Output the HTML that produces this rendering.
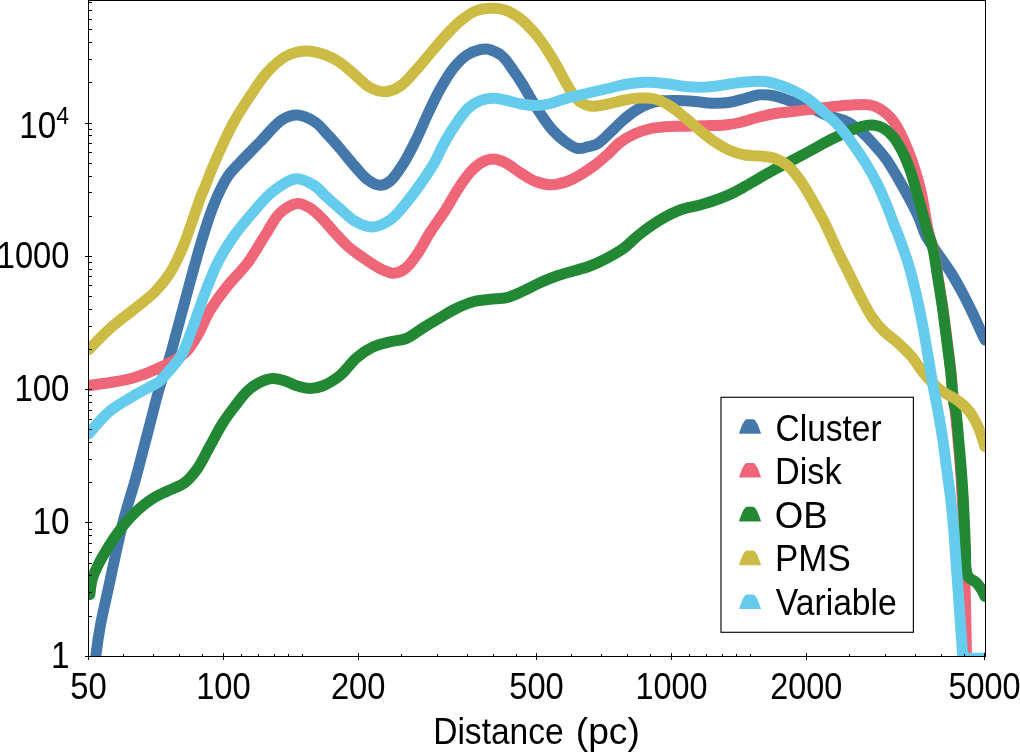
<!DOCTYPE html>
<html><head><meta charset="utf-8"><title>Distance distribution</title>
<style>html,body{margin:0;padding:0;background:#fff}body{width:1020px;height:753px;overflow:hidden}</style>
</head><body>
<svg width="1020" height="753" viewBox="0 0 1020 753" style="display:block">
<rect width="1020" height="753" fill="#fff"/>
<defs><clipPath id="cp"><rect x="88.5" y="0.5" width="897.0" height="656.0"/></clipPath></defs>
<g clip-path="url(#cp)" fill="none" stroke-width="11" stroke-linejoin="round" stroke-linecap="round">
<path d="M92.00,700.00C92.00,700.00 94.29,668.91 95.90,655.40C97.25,644.08 98.67,634.82 100.60,624.30C102.61,613.33 105.40,602.04 107.80,590.90C110.20,579.74 112.53,568.56 115.00,557.40C117.47,546.23 120.02,534.10 122.60,523.90C124.80,515.23 127.12,507.50 129.30,500.00C131.25,493.29 132.81,488.78 135.00,481.00C138.45,468.75 143.33,449.33 147.50,433.50C151.67,417.67 155.97,399.33 160.00,386.00C162.99,376.13 166.18,368.77 168.75,360.50C171.14,352.80 172.76,346.19 175.00,338.00C177.69,328.16 180.83,316.33 183.75,305.50C186.67,294.67 189.44,284.02 192.50,273.00C195.68,261.54 199.04,249.18 202.50,238.00C205.72,227.58 209.07,216.92 212.50,208.00C215.35,200.59 218.28,193.88 221.25,188.00C223.71,183.13 225.74,179.14 228.75,175.00C231.93,170.62 235.66,167.13 240.00,162.50C245.66,156.46 253.11,148.97 260.00,142.00C267.26,134.65 275.22,123.85 282.50,119.50C287.61,116.45 292.35,114.77 297.50,115.00C303.15,115.25 309.89,118.63 315.00,122.00C320.04,125.33 323.82,130.56 328.00,135.00C332.15,139.40 335.82,143.64 340.00,148.50C344.76,154.03 350.08,161.01 355.00,166.50C359.40,171.41 363.42,176.80 368.00,180.00C371.83,182.68 376.17,185.24 380.00,185.30C383.47,185.35 386.80,183.68 390.00,181.25C394.41,177.89 398.49,171.18 402.50,165.00C407.22,157.72 411.73,148.61 416.00,140.00C420.41,131.12 424.25,121.41 428.50,112.50C432.59,103.93 436.56,95.25 441.00,87.50C445.10,80.34 449.32,73.16 454.00,67.50C458.07,62.58 462.36,58.02 467.00,55.00C471.09,52.34 476.20,50.58 480.00,49.70C482.78,49.06 484.68,48.69 487.50,49.20C491.52,49.92 497.39,52.30 501.50,55.50C506.01,59.01 509.40,65.05 513.00,70.00C516.56,74.89 519.92,80.06 523.00,85.00C525.89,89.65 528.21,94.19 531.00,98.80C533.87,103.53 536.66,108.11 540.00,113.00C543.74,118.47 548.08,125.07 552.50,130.00C556.46,134.42 560.64,138.34 565.00,141.50C569.00,144.40 573.39,147.79 577.50,148.50C581.04,149.11 584.68,147.46 588.00,146.70C591.06,146.00 593.97,145.62 596.70,144.20C599.67,142.66 602.28,139.90 605.00,137.50C607.82,135.01 610.55,132.17 613.30,129.50C616.05,126.84 618.69,124.02 621.50,121.50C624.26,119.03 627.16,116.64 630.00,114.50C632.66,112.49 635.12,110.70 638.00,109.00C641.09,107.18 644.44,105.32 648.00,104.00C651.75,102.61 655.59,101.61 660.00,101.00C665.25,100.28 671.67,100.42 677.50,100.50C683.34,100.58 689.17,101.03 695.00,101.50C700.84,101.97 706.66,103.17 712.50,103.30C718.33,103.43 724.43,103.16 730.00,102.30C735.23,101.50 740.00,99.75 745.00,98.50C750.00,97.25 754.97,95.21 760.00,94.80C764.97,94.40 770.06,94.99 775.00,96.00C780.06,97.03 784.79,99.35 790.00,101.00C795.60,102.77 801.59,104.01 807.50,106.25C813.91,108.68 820.47,112.78 827.00,115.30C833.27,117.72 840.23,118.50 845.90,121.20C851.14,123.70 855.48,126.89 860.00,130.60C864.91,134.62 869.71,139.90 874.10,144.70C878.32,149.31 882.15,153.62 885.90,158.80C890.02,164.49 893.77,171.10 897.60,177.60C901.61,184.41 905.76,191.91 909.40,198.80C912.79,205.22 916.00,211.30 918.80,217.60C921.51,223.71 922.97,230.19 926.00,236.00C929.03,241.82 933.12,246.79 937.00,252.50C941.24,258.75 946.27,265.29 950.50,272.00C954.77,278.78 958.74,285.99 962.50,293.00C966.16,299.83 969.62,306.86 972.80,313.50C975.75,319.67 978.74,326.62 981.00,331.50C982.56,334.86 985.00,340.00 985.00,340.00" stroke="#4477AA"/>
<path d="M89.00,385.50C89.00,385.50 102.86,383.71 110.00,382.50C117.51,381.23 125.13,380.28 133.00,378.00C141.75,375.46 151.33,371.67 160.00,367.50C168.66,363.34 178.55,358.87 185.00,353.00C190.57,347.94 193.57,342.02 197.50,335.50C201.98,328.06 205.12,318.61 210.00,310.50C215.06,302.09 221.27,293.89 227.50,286.00C233.77,278.06 241.34,271.26 247.50,263.00C253.87,254.46 259.35,244.18 265.00,235.50C270.15,227.60 274.03,218.45 280.00,213.00C285.12,208.32 292.07,203.91 297.50,203.50C301.94,203.16 306.04,205.66 310.00,208.00C314.43,210.62 318.45,214.98 322.50,219.00C326.80,223.27 330.79,228.46 335.00,233.00C339.13,237.45 343.18,242.15 347.50,246.00C351.53,249.59 355.79,252.47 360.00,255.50C364.13,258.47 368.47,261.48 372.50,264.00C376.11,266.25 379.39,268.45 383.00,270.00C386.48,271.50 390.15,273.41 393.75,273.25C397.49,273.09 401.46,271.32 405.00,268.75C409.50,265.48 413.55,259.36 417.50,253.75C421.94,247.44 425.47,239.60 430.00,232.50C434.77,225.02 440.62,217.58 445.50,210.00C450.28,202.57 454.47,194.29 459.00,187.50C462.98,181.54 466.74,175.69 471.00,171.25C474.64,167.45 478.54,164.05 482.50,162.00C485.91,160.24 489.38,158.99 493.00,159.00C496.87,159.01 500.93,160.60 505.00,162.50C509.89,164.78 514.95,169.35 520.00,172.50C524.95,175.59 529.67,179.21 535.00,181.25C540.33,183.29 546.47,184.80 552.00,184.75C557.29,184.70 562.49,183.08 567.50,181.25C572.67,179.37 577.81,176.29 582.50,173.50C586.94,170.86 590.91,168.10 595.00,165.00C599.25,161.78 603.39,158.19 607.50,154.50C611.73,150.70 615.42,145.96 620.00,142.50C624.59,139.04 629.88,136.07 635.00,133.75C639.89,131.54 644.94,129.92 650.00,128.75C654.95,127.61 659.63,127.17 665.00,126.75C671.18,126.26 678.33,126.42 685.00,126.25C691.67,126.08 698.33,125.96 705.00,125.75C711.67,125.54 718.83,125.63 725.00,125.00C730.38,124.45 734.84,123.66 740.00,122.50C745.64,121.23 751.65,119.00 757.50,117.50C763.31,116.01 768.94,114.54 775.00,113.50C781.42,112.40 788.33,111.98 795.00,111.20C801.67,110.42 808.21,109.60 815.00,108.80C822.04,107.97 829.57,106.98 836.50,106.30C842.97,105.67 849.48,105.01 855.30,104.80C860.33,104.62 865.08,104.11 869.40,104.90C873.31,105.61 876.79,106.92 880.20,108.90C883.90,111.04 887.52,114.15 890.60,117.60C893.91,121.30 896.52,125.75 899.20,130.60C902.28,136.18 905.13,143.08 907.70,149.40C910.23,155.62 912.37,161.54 914.50,168.20C916.86,175.58 919.28,183.90 921.10,191.80C922.90,199.60 924.02,207.91 925.40,215.30C926.64,221.92 927.56,228.29 929.00,234.10C930.28,239.26 932.08,242.84 933.40,248.50C935.22,256.30 936.46,267.18 938.00,276.80C939.60,286.80 941.28,296.83 942.80,307.40C944.43,318.71 946.01,331.50 947.40,342.60C948.65,352.54 949.78,361.28 950.80,370.90C951.86,380.89 952.70,394.47 953.60,401.50C954.08,405.22 954.51,406.29 955.00,410.00C955.92,416.94 957.08,430.00 958.00,440.00C958.92,450.00 959.78,460.00 960.50,470.00C961.22,480.00 961.77,490.00 962.30,500.00C962.83,510.00 963.29,518.68 963.70,530.00C964.23,544.76 964.58,562.37 965.00,581.00C965.51,603.60 966.16,634.31 966.50,656.00C966.76,672.61 967.00,700.00 967.00,700.00" stroke="#EE6677"/>
<path d="M89.90,594.50C89.90,594.50 90.89,583.90 92.30,578.90C93.70,573.94 95.90,569.49 98.30,564.60C100.97,559.15 104.33,553.41 107.80,547.80C111.46,541.88 115.65,535.47 119.80,530.00C123.64,524.94 127.59,520.27 131.70,516.00C135.57,511.98 139.59,508.27 143.70,505.00C147.57,501.92 151.54,499.17 155.60,496.80C159.48,494.53 163.15,493.12 167.50,491.00C172.77,488.43 179.97,486.30 185.00,482.50C189.94,478.77 193.61,473.97 197.50,468.50C202.05,462.10 205.83,453.50 210.00,446.00C214.17,438.50 218.13,430.42 222.50,423.50C226.50,417.18 230.73,411.53 235.00,406.00C239.07,400.73 243.04,395.10 247.50,391.00C251.44,387.38 255.66,384.35 260.00,382.25C264.02,380.30 268.31,378.70 272.50,378.50C276.64,378.31 280.89,379.78 285.00,381.00C289.23,382.26 293.27,384.74 297.50,386.00C301.61,387.22 305.83,388.50 310.00,388.50C314.17,388.50 318.14,387.69 322.50,386.00C328.02,383.87 334.52,379.92 340.00,375.50C345.99,370.67 350.83,362.63 356.70,357.70C361.99,353.25 367.56,349.48 373.30,346.80C378.68,344.29 384.40,343.22 390.00,341.80C395.54,340.39 401.33,340.49 406.70,338.30C412.47,335.95 417.73,331.14 423.30,327.70C428.83,324.28 434.41,320.95 440.00,317.70C445.55,314.48 451.05,311.00 456.70,308.30C462.16,305.69 467.67,303.20 473.30,301.70C478.77,300.24 484.43,299.97 490.00,299.30C495.56,298.63 501.24,299.03 506.70,297.70C512.34,296.32 517.81,293.47 523.30,291.00C528.91,288.48 534.38,285.22 540.00,282.70C545.52,280.23 551.10,277.96 556.70,276.00C562.20,274.07 567.76,272.66 573.30,271.00C578.86,269.33 584.51,268.08 590.00,266.00C595.64,263.87 601.21,261.17 606.70,258.30C612.32,255.36 617.93,252.37 623.30,248.50C629.05,244.36 634.05,238.64 640.00,234.00C646.25,229.12 653.18,224.06 660.00,220.00C666.53,216.11 673.19,212.52 680.00,210.00C686.54,207.58 693.37,206.90 700.00,205.00C706.70,203.08 713.86,200.82 720.00,198.50C725.41,196.45 730.06,194.46 735.00,192.00C740.07,189.47 744.65,186.56 750.00,183.50C756.19,179.96 763.30,175.68 770.00,172.00C776.63,168.35 783.33,165.00 790.00,161.50C796.67,158.00 803.35,154.57 810.00,151.00C816.68,147.41 823.22,143.41 830.00,140.00C836.75,136.61 844.64,133.02 850.60,130.60C855.03,128.80 858.42,127.30 862.40,126.40C866.26,125.53 870.45,124.82 874.10,125.20C877.44,125.55 880.53,126.52 883.50,128.20C886.84,130.10 889.99,133.06 892.90,136.50C896.39,140.63 899.65,146.50 902.40,151.80C905.14,157.07 907.29,162.49 909.40,168.20C911.62,174.20 913.38,180.53 915.30,187.00C917.32,193.84 919.30,201.25 921.20,208.20C923.03,214.91 924.58,221.36 926.50,228.00C928.47,234.79 931.13,241.05 932.90,248.50C934.95,257.11 936.05,267.18 937.60,276.80C939.21,286.80 940.88,296.83 942.40,307.40C944.03,318.71 945.57,331.50 947.00,342.60C948.28,352.55 949.52,361.27 950.60,370.90C951.73,380.89 952.39,394.52 953.60,401.50C954.24,405.21 955.06,406.21 955.70,409.90C956.90,416.78 957.77,429.83 958.70,439.80C959.63,449.76 960.53,459.73 961.30,469.70C962.07,479.66 962.73,489.63 963.30,499.60C963.87,509.56 964.31,520.47 964.70,529.50C965.02,536.98 965.28,543.39 965.50,550.00C965.71,556.19 965.26,563.07 966.00,568.00C966.53,571.55 966.80,574.59 968.50,577.00C970.22,579.44 974.07,580.30 976.30,582.50C978.53,584.70 980.39,587.70 981.90,590.20C983.20,592.35 985.00,596.50 985.00,596.50" stroke="#228833"/>
<path d="M89.00,349.50C89.00,349.50 102.50,335.22 110.00,328.50C117.79,321.53 127.16,314.91 135.00,308.50C142.07,302.71 149.08,297.81 155.00,291.75C160.68,285.94 165.55,279.96 170.00,273.00C174.80,265.49 178.78,256.64 182.50,248.00C186.30,239.16 189.30,229.46 192.50,220.50C195.54,211.98 198.95,201.37 201.25,195.50C202.53,192.24 203.25,191.05 204.50,188.00C206.43,183.31 208.82,176.46 211.50,170.00C214.68,162.32 218.61,153.29 222.50,145.00C226.44,136.62 230.42,128.12 235.00,120.00C239.59,111.86 244.72,104.09 250.00,96.25C255.38,88.25 260.72,79.35 267.00,72.50C272.81,66.17 279.19,59.84 286.00,56.25C292.12,53.02 298.97,51.23 305.50,51.00C311.97,50.77 319.06,52.74 325.00,54.80C330.47,56.70 335.17,59.30 340.00,62.50C345.20,65.94 350.00,70.83 355.00,75.00C360.00,79.17 364.69,84.70 370.00,87.50C374.75,90.01 380.03,91.94 385.00,91.75C390.03,91.56 395.31,89.25 400.00,86.25C405.41,82.80 410.10,76.54 415.00,71.25C420.11,65.73 425.00,59.58 430.00,53.75C435.00,47.92 439.89,41.77 445.00,36.25C449.90,30.96 454.78,25.53 460.00,21.25C464.81,17.30 469.78,13.40 475.00,11.25C479.81,9.27 484.98,8.50 490.00,8.30C494.98,8.10 500.16,8.43 505.00,10.00C510.18,11.68 515.47,15.13 520.00,18.50C524.45,21.81 528.39,26.10 532.00,30.00C535.34,33.61 538.09,37.07 541.00,41.00C544.11,45.20 547.15,49.96 550.00,54.50C552.81,58.96 555.42,63.43 558.00,68.00C560.59,72.60 562.92,77.55 565.50,82.00C567.93,86.20 570.27,90.46 573.00,94.00C575.48,97.21 578.00,100.48 581.00,102.50C583.73,104.34 586.86,105.49 590.00,106.00C593.19,106.52 596.68,105.91 600.00,105.50C603.35,105.08 606.34,104.29 610.00,103.50C614.50,102.52 619.98,100.92 625.00,100.00C629.98,99.09 634.99,98.17 640.00,98.00C644.99,97.84 650.11,97.74 655.00,99.00C660.13,100.32 665.16,103.06 670.00,106.00C675.18,109.14 680.06,113.47 685.00,117.50C690.06,121.63 694.94,126.37 700.00,130.50C704.94,134.53 709.88,138.61 715.00,142.00C719.89,145.24 724.87,148.31 730.00,150.50C734.89,152.59 739.95,154.09 745.00,155.00C749.95,155.90 755.01,155.42 760.00,156.00C765.01,156.58 770.36,156.87 775.00,158.50C779.50,160.08 783.59,162.31 787.50,165.50C792.02,169.19 796.04,174.57 800.00,180.00C804.43,186.08 808.42,193.42 812.50,200.50C816.76,207.90 821.04,215.61 825.00,223.50C829.06,231.59 832.59,240.33 836.50,248.50C840.32,256.48 844.29,264.16 848.20,272.00C852.12,279.86 855.98,287.99 860.00,295.60C863.85,302.90 867.57,310.62 871.80,316.80C875.48,322.17 879.20,326.60 883.50,330.90C887.80,335.20 892.99,338.40 897.60,342.60C902.43,347.00 907.48,351.73 911.80,356.80C916.11,361.86 919.04,367.73 923.50,373.00C928.34,378.72 933.94,384.87 940.00,389.70C946.02,394.50 954.42,397.72 959.70,401.90C963.82,405.16 966.77,408.07 969.70,411.90C972.82,415.97 975.51,421.06 977.70,425.80C979.81,430.37 981.42,435.97 982.70,439.80C983.58,442.43 984.80,446.50 984.80,446.50" stroke="#CCBB44"/>
<path d="M89.00,433.50C89.00,433.50 102.25,417.46 110.00,411.00C117.61,404.66 126.59,400.04 135.00,395.00C143.26,390.05 155.02,384.96 160.00,381.00C162.54,378.98 162.90,377.94 165.00,375.50C168.91,370.95 176.76,363.07 181.25,355.50C186.07,347.37 188.76,337.76 192.50,328.00C196.68,317.08 200.68,304.16 205.00,293.00C209.04,282.56 212.76,272.38 217.50,263.00C221.99,254.11 226.84,246.15 232.50,238.00C238.44,229.46 245.67,220.87 252.50,213.00C259.02,205.49 265.04,197.52 272.50,191.75C279.68,186.20 288.69,179.25 296.25,178.75C302.76,178.32 309.97,182.81 315.00,186.00C319.17,188.64 321.30,192.11 325.00,195.50C329.46,199.59 334.97,204.43 340.00,208.75C344.97,213.01 349.49,218.20 355.00,221.25C360.35,224.22 366.70,227.18 372.50,227.00C378.37,226.81 384.69,223.59 390.00,220.00C395.79,216.08 400.46,209.69 405.50,203.75C410.98,197.29 416.56,189.56 421.50,182.50C426.18,175.81 430.62,169.28 434.50,162.50C438.26,155.94 440.81,149.08 444.50,142.50C448.29,135.74 452.69,128.57 457.00,122.50C460.89,117.02 464.63,111.32 469.00,107.50C472.73,104.24 476.85,101.83 481.00,100.30C484.87,98.88 489.00,98.35 493.00,98.30C497.00,98.25 500.80,99.18 505.00,100.00C509.74,100.93 514.97,102.83 520.00,103.75C524.97,104.66 530.00,105.50 535.00,105.50C540.00,105.50 545.06,104.85 550.00,103.75C555.06,102.62 559.97,100.21 565.00,98.75C569.97,97.30 575.00,96.21 580.00,95.00C585.00,93.79 590.00,92.67 595.00,91.50C600.00,90.33 605.00,89.17 610.00,88.00C615.00,86.83 619.61,85.42 625.00,84.50C631.16,83.45 638.33,82.47 645.00,82.30C651.66,82.13 658.35,82.80 665.00,83.50C671.68,84.20 678.80,85.87 685.00,86.50C690.35,87.04 695.00,87.33 700.00,87.30C705.00,87.27 710.01,86.85 715.00,86.30C720.01,85.75 725.00,84.72 730.00,84.00C735.00,83.28 739.63,82.42 745.00,82.00C751.18,81.51 758.86,80.81 765.00,81.50C770.40,82.11 775.13,83.72 780.00,85.30C784.82,86.86 789.48,88.66 794.10,90.90C798.89,93.23 803.63,95.89 808.20,99.10C813.08,102.52 817.64,106.84 822.40,111.00C827.40,115.36 832.72,119.64 837.50,124.70C842.55,130.05 847.19,136.13 851.80,142.40C856.67,149.02 861.54,156.37 865.90,163.50C870.16,170.47 874.15,177.55 877.70,184.70C881.17,191.69 884.19,199.01 887.00,205.90C889.62,212.32 891.78,218.66 894.10,224.70C896.27,230.33 898.27,234.88 900.50,241.00C903.31,248.71 906.75,258.40 909.40,267.40C912.10,276.59 914.33,286.18 916.50,295.60C918.66,304.98 920.52,314.01 922.40,323.80C924.43,334.35 926.39,346.23 928.20,356.80C929.87,366.57 931.25,375.90 932.90,385.00C934.46,393.57 936.22,401.21 937.80,409.90C939.53,419.40 941.30,429.82 942.80,439.80C944.30,449.75 945.47,459.73 946.80,469.70C948.13,479.67 949.65,489.62 950.80,499.60C951.95,509.56 952.58,516.12 953.70,529.50C955.99,556.71 961.31,640.03 962.50,653.50C962.73,656.13 963.00,658.20 963.00,658.20L990,658.2" stroke="#66CCEE"/>
</g>
<g stroke="#000" stroke-width="1" fill="none" shape-rendering="crispEdges">
<rect x="88.5" y="0.5" width="897.0" height="656.0"/>
<path d="M84.8,656.20H91.7M88.5,616.07h3M88.5,592.60h3M88.5,575.95h3M88.5,563.03h3M88.5,552.47h3M88.5,543.55h3M88.5,535.82h3M88.5,529.00h3M84.8,522.90H91.7M88.5,482.77h3M88.5,459.30h3M88.5,442.65h3M88.5,429.73h3M88.5,419.17h3M88.5,410.25h3M88.5,402.52h3M88.5,395.70h3M84.8,389.60H91.7M88.5,349.47h3M88.5,326.00h3M88.5,309.35h3M88.5,296.43h3M88.5,285.87h3M88.5,276.95h3M88.5,269.22h3M88.5,262.40h3M84.8,256.30H91.7M88.5,216.17h3M88.5,192.70h3M88.5,176.05h3M88.5,163.13h3M88.5,152.57h3M88.5,143.65h3M88.5,135.92h3M88.5,129.10h3M84.8,123.00H91.7M88.5,82.87h3M88.5,59.40h3M88.5,42.75h3M88.5,29.83h3M88.5,19.27h3M88.5,10.35h3M88.5,2.62h3M88.50,653.3V660.1M223.36,653.3V660.1M358.22,653.3V660.1M536.50,653.3V660.1M671.36,653.3V660.1M806.22,653.3V660.1M984.50,653.3V660.1M123.97,656.5v-3M153.97,656.5v-3M179.95,656.5v-3M202.86,656.5v-3M241.91,656.5v-3M258.83,656.5v-3M274.41,656.5v-3M288.83,656.5v-3M302.25,656.5v-3M401.64,656.5v-3M437.11,656.5v-3M467.10,656.5v-3M493.08,656.5v-3M516.00,656.5v-3M571.97,656.5v-3M601.97,656.5v-3M627.95,656.5v-3M650.86,656.5v-3M689.91,656.5v-3M706.83,656.5v-3M722.41,656.5v-3M736.83,656.5v-3M750.25,656.5v-3M849.64,656.5v-3M885.11,656.5v-3M915.10,656.5v-3M941.08,656.5v-3M964.00,656.5v-3" stroke-width="1"/>
</g>
<g font-family="Liberation Sans, sans-serif" font-size="36.5" fill="#000">
<text x="88.5" y="699.0" text-anchor="middle" textLength="36.5" lengthAdjust="spacingAndGlyphs">50</text>
<text x="223.4" y="699.0" text-anchor="middle" textLength="54.5" lengthAdjust="spacingAndGlyphs">100</text>
<text x="358.2" y="699.0" text-anchor="middle" textLength="54.5" lengthAdjust="spacingAndGlyphs">200</text>
<text x="536.5" y="699.0" text-anchor="middle" textLength="54.5" lengthAdjust="spacingAndGlyphs">500</text>
<text x="671.4" y="699.0" text-anchor="middle" textLength="72" lengthAdjust="spacingAndGlyphs">1000</text>
<text x="806.2" y="699.0" text-anchor="middle" textLength="72" lengthAdjust="spacingAndGlyphs">2000</text>
<text x="984.5" y="699.0" text-anchor="middle" textLength="72" lengthAdjust="spacingAndGlyphs">5000</text>
<text x="69.4" y="267.7" text-anchor="end" textLength="72.6" lengthAdjust="spacingAndGlyphs">1000</text>
<text x="69.4" y="401.0" text-anchor="end" textLength="55" lengthAdjust="spacingAndGlyphs">100</text>
<text x="69.4" y="534.3" text-anchor="end" textLength="37" lengthAdjust="spacingAndGlyphs">10</text>
<text x="69.4" y="667.6" text-anchor="end" textLength="18.5" lengthAdjust="spacingAndGlyphs">1</text>
<text x="19.3" y="137.7" textLength="37" lengthAdjust="spacingAndGlyphs">10</text>
<text x="56.2" y="124.2" textLength="12.8" lengthAdjust="spacingAndGlyphs" font-size="24">4</text>
<text y="743.8" font-size="36.5"><tspan x="433.2" textLength="130.5" lengthAdjust="spacingAndGlyphs">Distance</tspan> <tspan x="575.8" textLength="64" lengthAdjust="spacingAndGlyphs">(pc)</tspan></text>
</g>
<rect x="721" y="397.3" width="192.4" height="235" fill="#fff" stroke="#111" stroke-width="1.2"/>
<g font-family="Liberation Sans, sans-serif" font-size="36.5" fill="#000">
<text x="775.6" y="441.0" textLength="106" lengthAdjust="spacingAndGlyphs">Cluster</text>
<path transform="translate(739,433.8)" d="M0,0C2.2,-6.5 4.8,-14.6 8.3,-14.6L13.8,-14.6C17.3,-14.6 19.9,-6.5 22.1,0Z" fill="#4477AA"/>
<text x="775" y="484.4" textLength="66.5" lengthAdjust="spacingAndGlyphs">Disk</text>
<path transform="translate(739,477.6)" d="M0,0C2.2,-6.5 4.8,-14.6 8.3,-14.6L13.8,-14.6C17.3,-14.6 19.9,-6.5 22.1,0Z" fill="#EE6677"/>
<text x="774.8" y="527.8" textLength="53" lengthAdjust="spacingAndGlyphs">OB</text>
<path transform="translate(739,521.4)" d="M0,0C2.2,-6.5 4.8,-14.6 8.3,-14.6L13.8,-14.6C17.3,-14.6 19.9,-6.5 22.1,0Z" fill="#228833"/>
<text x="775" y="571.2" textLength="75.7" lengthAdjust="spacingAndGlyphs">PMS</text>
<path transform="translate(739,565.2)" d="M0,0C2.2,-6.5 4.8,-14.6 8.3,-14.6L13.8,-14.6C17.3,-14.6 19.9,-6.5 22.1,0Z" fill="#CCBB44"/>
<text x="775.8" y="614.6" textLength="121" lengthAdjust="spacingAndGlyphs">Variable</text>
<path transform="translate(739,609.0)" d="M0,0C2.2,-6.5 4.8,-14.6 8.3,-14.6L13.8,-14.6C17.3,-14.6 19.9,-6.5 22.1,0Z" fill="#66CCEE"/>
</g>
</svg>
</body></html>
